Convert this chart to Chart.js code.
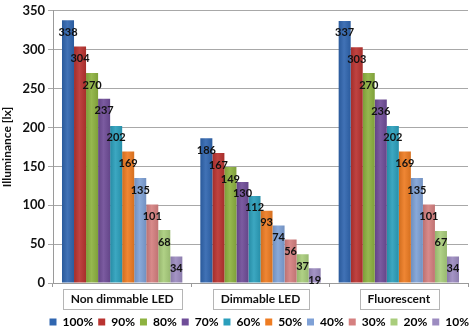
<!DOCTYPE html>
<html>
<head>
<meta charset="utf-8">
<script src="https://cdn.jsdelivr.net/npm/chart.js@4/dist/chart.umd.min.js"></script>
<style>
  html, body { margin: 0; padding: 0; background: #ffffff; }
  #wrap { width: 474px; height: 334px; }
</style>
</head>
<body>
<div id="wrap"><canvas id="c" width="474" height="334"></canvas></div>
<script>
// Lamp types on the x axis
const categories = ['Non dimmable LED', 'Dimmable LED', 'Fluorescent'];

// Dimming levels (one series each)
const levels = ['100%', '90%', '80%', '70%', '60%', '50%', '40%', '30%', '20%', '10%'];

// Measured illuminance [lx] per dimming level, ordered as categories
const lux100 = [338, 186, 337];
const lux90  = [304, 167, 303];
const lux80  = [270, 149, 270];
const lux70  = [237, 130, 236];
const lux60  = [202, 112, 202];
const lux50  = [169,  93, 169];
const lux40  = [135,  74, 135];
const lux30  = [101,  56, 101];
const lux20  = [ 68,  37,  67];
const lux10  = [ 34,  19,  34];

const yTicks = [0, 50, 100, 150, 200, 250, 300, 350];

const seriesValues = [lux100, lux90, lux80, lux70, lux60, lux50, lux40, lux30, lux20, lux10];
const seriesColors = ['#3066b0', '#b93330', '#8db240', '#6f4d98', '#2b9fbc',
                      '#ee7c22', '#7fa1d6', '#d58080', '#a9cd7c', '#9c8bc0'];

const FONT = 'Lato, "Open Sans", "Liberation Sans", sans-serif';

function shade(hex, f) {
  const n = parseInt(hex.slice(1), 16);
  let r = (n >> 16) & 255, g = (n >> 8) & 255, b = n & 255;
  const m = v => Math.max(0, Math.min(255, Math.round(f < 0 ? v * (1 + f) : v + (255 - v) * f)));
  return `rgb(${m(r)},${m(g)},${m(b)})`;
}

// Soft horizontal shading on every bar: darker edges, lighter middle
const barShading = {
  id: 'barShading',
  beforeDatasetsDraw(chart) {
    const ctx = chart.ctx;
    chart.data.datasets.forEach((ds, di) => {
      const meta = chart.getDatasetMeta(di);
      const base = seriesColors[di];
      meta.data.forEach(el => {
        const x0 = el.x - el.width / 2, x1 = el.x + el.width / 2;
        const g = ctx.createLinearGradient(x0, 0, x1, 0);
        g.addColorStop(0, shade(base, -0.12));
        g.addColorStop(0.45, shade(base, 0.08));
        g.addColorStop(1, shade(base, -0.10));
        el.options = Object.assign({}, el.options, { backgroundColor: g });
      });
    });
  }
};

// Value labels just below the top of each bar
const valueLabels = {
  id: 'valueLabels',
  afterDatasetsDraw(chart) {
    const ctx = chart.ctx;
    ctx.save();
    ctx.font = 'bold 11px ' + FONT;
    ctx.fillStyle = '#111111';
    ctx.textAlign = 'center';
    ctx.textBaseline = 'middle';
    chart.data.datasets.forEach((ds, di) => {
      const meta = chart.getDatasetMeta(di);
      meta.data.forEach((el, i) => {
        ctx.fillText(String(ds.data[i]), el.x, el.y + 12);
      });
    });
    ctx.restore();
  }
};

// Framed boxes around the category labels
const labelBoxes = {
  id: 'labelBoxes',
  afterDraw(chart) {
    const xs = chart.scales.x;
    const ctx = chart.ctx;
    ctx.save();
    ctx.font = 'bold 12px ' + FONT;
    ctx.strokeStyle = '#b5b5b5';
    ctx.lineWidth = 1;
    categories.forEach((c, i) => {
      const cx = xs.getPixelForTick(i);
      const w = ctx.measureText(c).width + 16;
      const x = Math.round(cx - w / 2) + 0.5;
      ctx.strokeRect(x, Math.round(xs.top) + 6.5, Math.round(w), 20);
    });
    ctx.restore();
  }
};

new Chart(document.getElementById('c'), {
  type: 'bar',
  data: {
    labels: categories,
    datasets: levels.map((lv, i) => ({
      label: lv,
      data: seriesValues[i],
      backgroundColor: seriesColors[i],
      borderWidth: 0,
      categoryPercentage: 0.87,
      barPercentage: 1.0
    }))
  },
  options: {
    responsive: false,
    animation: false,
    devicePixelRatio: 1,
    layout: { padding: { top: 7, right: 0, left: 0, bottom: -4 } },
    plugins: {
      tooltip: { enabled: false },
      legend: {
        position: 'bottom',
        align: 'end',
        labels: {
          boxWidth: 7,
          boxHeight: 7,
          padding: 5,
          color: '#111111',
          font: { family: FONT, size: 12, weight: 'bold' },
          generateLabels(chart) {
            return chart.data.datasets.map((ds, i) => ({
              text: ds.label,
              fillStyle: seriesColors[i],
              strokeStyle: seriesColors[i],
              lineWidth: 0,
              datasetIndex: i
            }));
          }
        }
      }
    },
    scales: {
      x: {
        grid: {
          display: true,
          drawOnChartArea: false,
          drawTicks: true,
          tickLength: 4,
          color: '#9a9a9a'
        },
        border: { color: '#9a9a9a' },
        ticks: {
          color: '#111111',
          padding: 5,
          font: { family: FONT, size: 12, weight: 'bold' }
        },
        afterFit(s) { s.height = 28; }
      },
      y: {
        min: 0,
        max: 350,
        afterBuildTicks(s) { s.ticks = yTicks.map(v => ({ value: v })); },
        grid: {
          color: '#a8a8a8',
          tickLength: 5,
          drawTicks: true
        },
        border: { color: '#9a9a9a' },
        ticks: {
          color: '#111111',
          padding: 3,
          font: { family: FONT, size: 13, weight: 'bold' }
        },
        title: {
          display: true,
          text: 'Illuminance [lx]',
          color: '#111111',
          padding: { top: 0, bottom: 2 },
          font: { family: FONT, size: 12, weight: 'bold' }
        },
        afterFit(s) { s.width = 53; }
      },
      // empty margin strip on the right of the plot
      yRight: {
        position: 'right',
        display: true,
        grid: { display: false },
        border: { display: false },
        ticks: { display: false },
        afterFit(s) { s.width = 6; }
      }
    }
  },
  plugins: [barShading, valueLabels, labelBoxes]
});
</script>
</body>
</html>
